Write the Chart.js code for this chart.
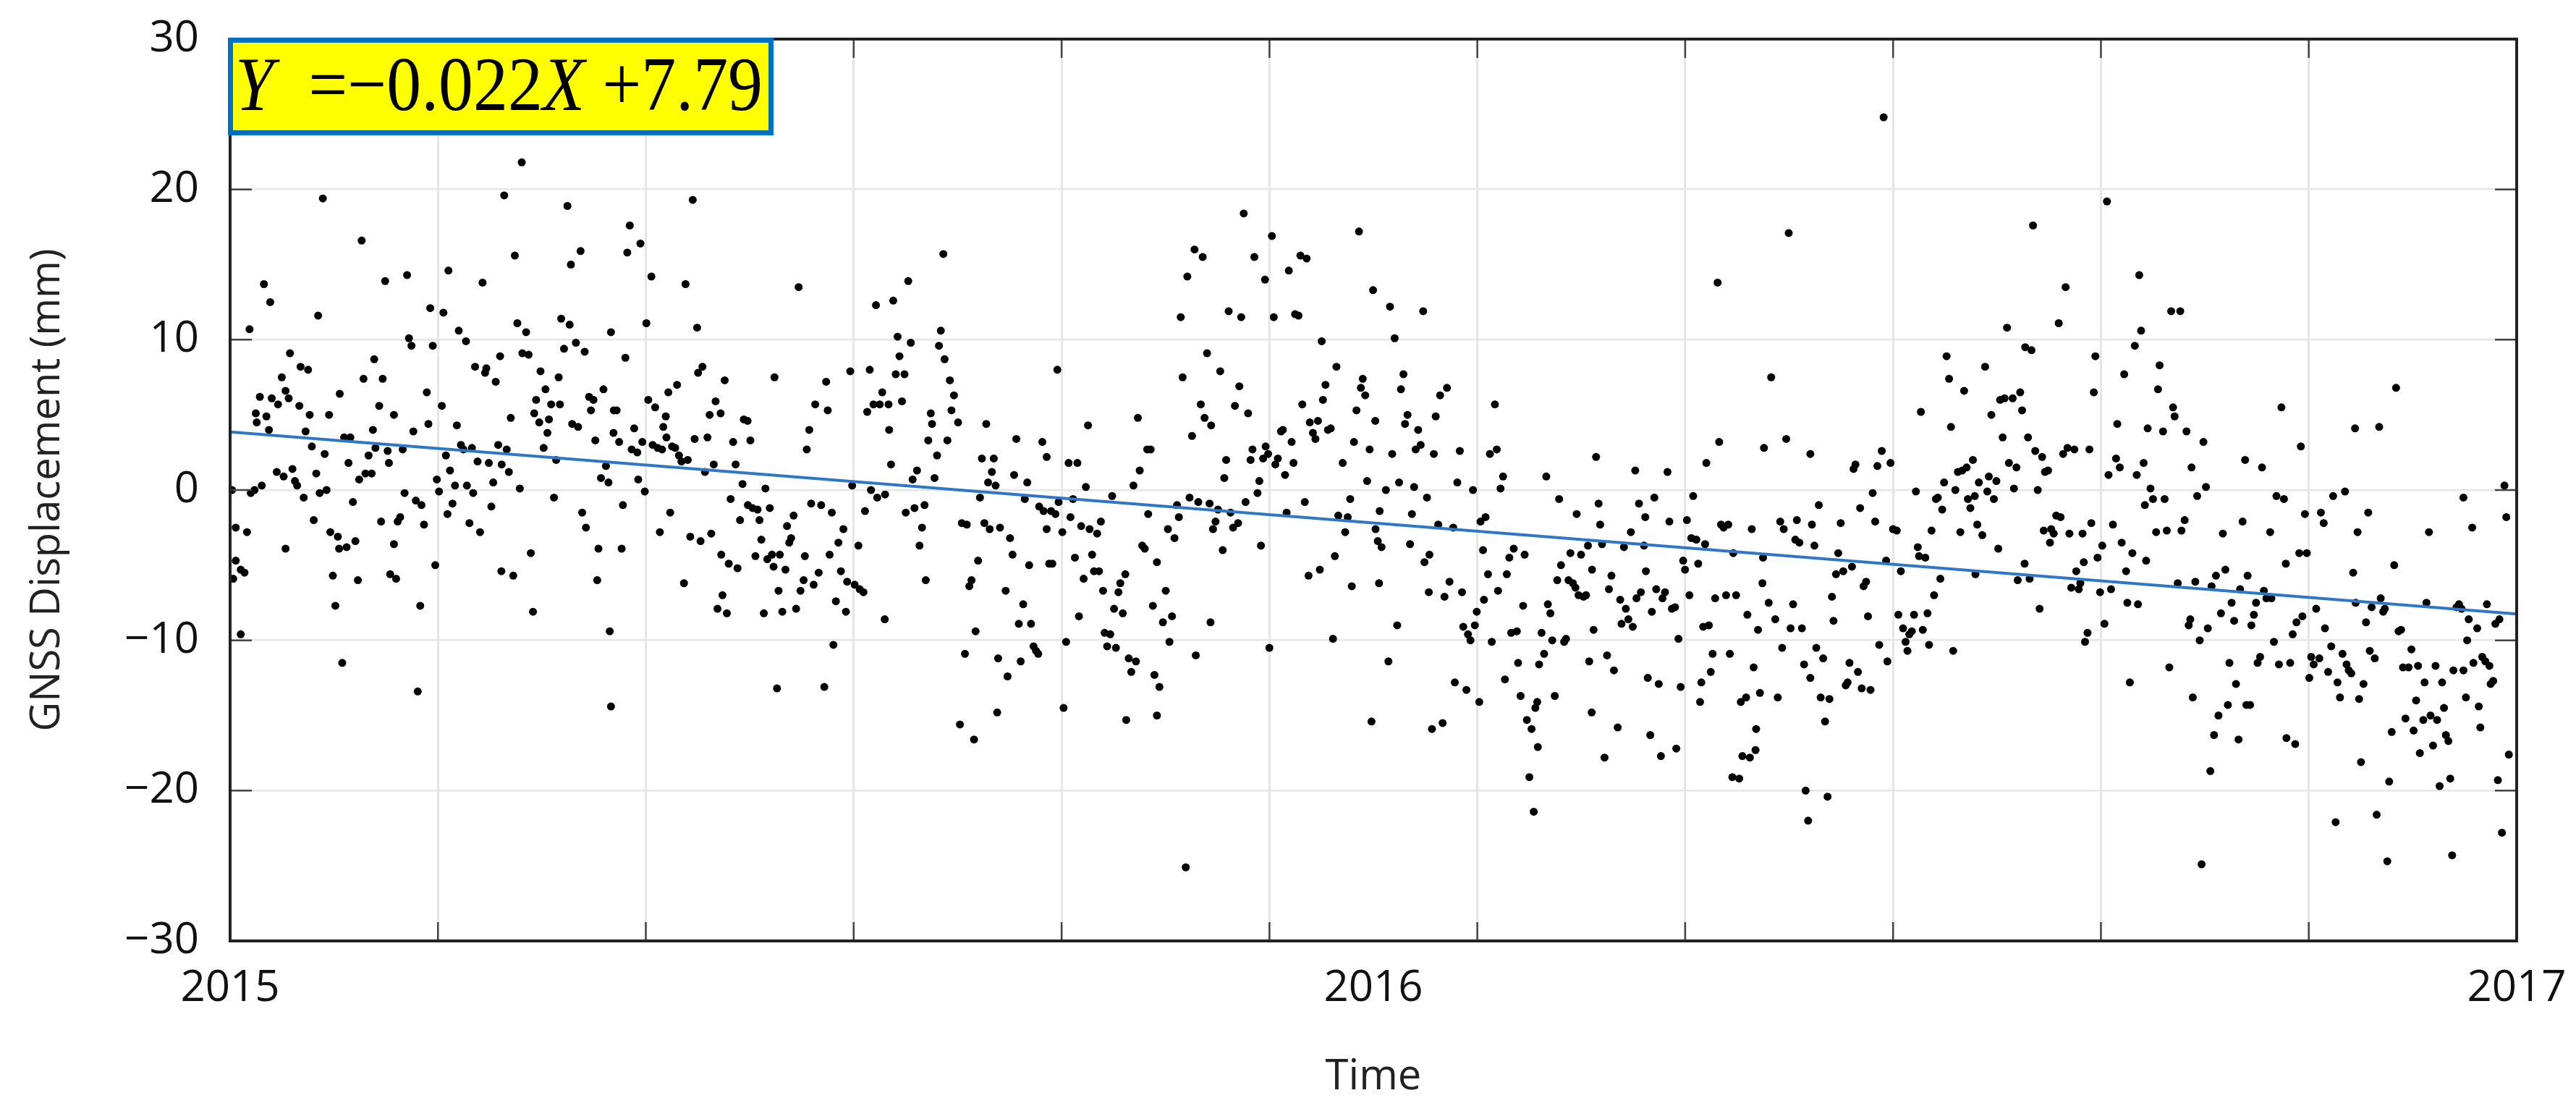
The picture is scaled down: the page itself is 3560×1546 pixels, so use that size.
<!DOCTYPE html>
<html lang="en">
<head>
<meta charset="UTF-8">
<title>GNSS Displacement</title>
<script src="https://cdn.jsdelivr.net/npm/chart.js"></script>
<style>
  html, body { margin: 0; padding: 0; background: #fff; }
  #wrap { width: 3560px; height: 1546px; position: relative; }
</style>
</head>
<body>
<div id="wrap"><canvas id="grafico"></canvas></div>
<script>
// dias desde 1 jan 2015 e deslocamento em mm
const days2015 = [
  0.6, 1.8, 1.8, 1.0, 3.4, 3.4, 4.6, 5.4, 6.2, 6.6,
  7.8, 8.2, 8.5, 9.5, 10.1, 10.8, 11.6, 12.4, 12.8, 13.3,
  14.9, 15.3, 16.5, 17.1, 17.7, 17.7, 18.7, 19.1, 19.9, 20.7,
  21.4, 22.1, 22.5, 23.5, 24.1, 24.9, 25.4, 26.1, 26.7, 27.5,
  28.1, 28.6, 29.6, 30.2, 30.8, 31.6, 32.0, 32.8, 33.6, 34.4,
  34.8, 35.0, 35.8, 36.4, 37.2, 37.8, 38.4, 39.2, 40.0, 40.8,
  41.2, 42.0, 42.6, 43.2, 44.2, 45.2, 45.6, 46.0, 46.4, 47.6,
  48.2, 48.7, 49.5, 50.3, 50.7, 51.1, 52.3, 52.3, 53.0, 53.5,
  54.3, 55.1, 55.7, 56.5, 57.1, 57.9, 58.5, 59.3, 59.9, 60.7,
  61.1, 61.9, 62.8, 63.3, 63.9, 64.7, 65.5, 66.0, 66.7, 67.6,
  68.1, 68.9, 69.4, 69.7, 70.2, 71.0, 71.8, 72.4, 73.0, 73.7,
  74.5, 75.3, 75.6, 76.4, 77.2, 77.6, 78.2, 79.0, 79.8, 80.6,
  81.4, 81.8, 82.6, 83.4, 84.0, 84.8, 85.6, 86.2, 86.6, 86.7,
  87.5, 88.3, 89.0, 89.6, 90.4, 90.9, 91.7, 92.5, 93.1, 93.3,
  94.5, 95.3, 96.0, 96.7, 97.1, 97.7, 98.7, 99.1, 100.1, 100.7,
  101.3, 101.8, 102.5, 103.4, 104.1, 104.9, 105.3, 105.7, 106.6, 107.7,
  108.4, 108.8, 109.2, 110.4, 111.1, 111.9, 112.4, 113.2, 113.6, 114.6,
  115.2, 116.0, 116.6, 117.2, 117.6, 118.4, 119.2, 120.0, 120.8, 121.2,
  121.6, 121.6, 122.4, 122.5,
  123.4, 124.2, 125.0, 125.4, 126.2, 126.8, 127.6, 128.2, 129.0, 130.0,
  130.3, 131.0, 131.6, 132.4, 132.9, 133.5, 134.5, 134.9, 135.7, 136.5,
  137.2, 137.9, 138.3, 139.1, 139.3, 139.9, 140.5, 141.1, 142.1, 142.7,
  143.3, 144.1, 144.9, 145.4, 146.1, 146.9, 147.7, 148.3, 149.1, 149.4,
  150.2, 150.8, 151.6, 152.4, 153.1, 153.6, 154.4, 155.0, 155.6, 156.6,
  156.8, 157.2, 157.9, 158.6, 159.2, 159.8, 160.6, 161.4, 162.0, 162.8,
  163.6, 164.0, 165.2, 165.3, 166.1, 166.8, 167.7, 168.4, 169.0, 169.6,
  170.4, 170.9, 171.5, 172.3, 173.0, 173.5, 173.8, 174.6, 175.1, 175.5,
  176.3, 177.3, 177.8, 178.5, 179.1, 179.9, 180.7, 181.5, 182.1, 183.1,
  183.5, 184.1, 184.9, 185.5, 186.3, 186.8, 187.9, 188.7, 189.7, 190.3,
  190.8, 191.4, 192.1, 192.6, 193.4, 194.2, 195.0, 195.8, 196.6, 197.0,
  198.0, 198.6, 199.4, 200.6, 201.0, 202.2, 202.7, 203.4, 204.2, 204.6,
  205.4, 206.2, 206.6, 207.4, 208.2, 209.0, 209.1, 210.2, 210.4, 211.0,
  211.7, 212.5, 213.1, 213.7, 214.5, 215.3, 215.7, 216.5, 217.3, 217.9,
  218.5, 219.3, 220.1, 220.9, 221.7, 222.1, 222.9, 223.7, 224.1, 224.9,
  225.7, 226.3, 226.9, 227.7, 228.1, 229.0, 229.8, 230.3, 231.1, 232.4,
  233.0, 233.6, 234.6, 235.2, 236.0, 236.7, 237.5, 238.0, 238.8, 239.4,
  240.0, 240.8, 241.4, 242.0, 242.5, 243.2, 243.8, 244.4, 244.9, 245.2,
  245.8, 247.6, 248.2, 249.0, 249.8, 250.3, 251.0, 251.8, 252.4, 253.2,
  253.7, 254.5, 255.1, 255.7, 256.5, 257.3, 258.0, 258.3, 259.3, 259.7,
  260.7, 260.7, 261.5, 262.1, 262.5, 263.5, 264.1, 264.5, 265.7, 266.1,
  266.9, 267.7, 268.3, 269.1, 269.7, 270.5, 271.0, 271.7, 272.5, 273.2,
  273.9, 274.4, 275.2, 275.8, 276.8, 277.4, 278.0, 278.7, 279.2, 280.0,
  281.0, 281.6, 282.2, 282.8, 283.6, 284.2, 285.0, 285.8, 286.1, 286.9,
  287.7, 288.4, 289.2, 289.8, 290.4, 291.2, 292.0, 292.8, 293.1, 293.9,
  294.6, 295.1, 295.9, 295.9, 296.7, 297.8, 298.7, 299.4, 299.9, 300.7,
  301.5, 302.3, 302.9, 303.5, 304.1, 305.1, 305.6, 306.3, 307.1, 307.9,
  308.3, 309.1, 309.9, 310.5, 311.1, 311.9, 312.7, 313.0, 313.2, 313.8,
  314.6, 315.4, 316.1, 316.9, 317.4, 318.0, 318.8, 319.4, 320.2, 320.8,
  321.8, 322.2, 322.8, 323.6, 324.2, 325.0, 325.8, 326.4, 327.0, 328.0,
  328.6, 329.1, 329.8, 330.4, 330.6, 331.4, 331.8, 332.6, 333.2, 333.7,
  334.5, 335.5, 336.1, 336.8, 337.3, 338.0, 338.9, 339.5, 340.0, 341.1,
  341.7, 342.3, 343.1, 343.7, 344.3, 344.7, 345.7, 346.5, 347.3, 347.9,
  348.5, 348.9, 349.7, 350.5, 351.4, 352.1, 352.7, 353.2, 353.8, 355.2,
  356.0, 356.8, 357.6, 358.1, 358.8, 359.6, 360.4, 361.0, 361.6, 362.4,
  363.0, 363.8, 364.4, 364.9
];
const mm2015 = [
  0, -2.5, -4.7, -5.9, -9.6, -5.3, -5.5, -2.8, 10.7, -0.2,
  0, 5.1, 4.5, 6.2, 0.3, 13.7, 4.9, 4.0, 12.5, 6.1,
  1.2, 5.7, 7.5, 0.9, 6.6, -3.9, 6.1, 9.1, 1.4, 0.6,
  0.3, 5.6, 8.2, -0.5, 3.9, 8.0, 5.0, 2.9, -2.0, 1.1,
  11.6, -0.2, 19.4, 2.4, 0, 5.0, -2.8, -5.7, -7.7, -3.1,
  -3.9, 6.4, -11.5, 3.5, -3.8, 1.8, 3.5, -0.8, -3.4, -6.0,
  0.7, 16.6, 7.4, 1.1, 2.3, 1.1, 4.0, 8.7, 2.8, 5.6,
  -2.1, 7.4, 13.9, 2.6, 1.8, -5.6, 5.0, -3.6, -5.9, -2.1,
  -1.8, 2.7, -0.2, 14.3, 10.1, 9.6, 3.9, -0.7, -13.4, -7.7,
  -1.0, -2.3, 6.5, 4.4, 12.1, 9.6, -5.0, 0.7, -0.1, 5.6,
  11.8, 2.3, -1.6, 14.6, 1.3, -0.9, 0.3, 4.3, 10.6, 3.0,
  2.7, 9.9, 0.3, -2.2, 2.8, -0.2, 8.2, 1.9, -2.8, 13.8,
  7.8, 8.1, 1.8, -1.1, 0.5, 7.2, 3.0, 8.9, -5.4, 1.7,
  19.6, 2.7, 1.2, 4.8, -5.7, 15.6, 11.1, 0.1, 21.8, 9.1,
  10.5, 9.0, -4.2, -8.1, 5.1, 6.0, 4.5, 7.9, 2.8, 6.7,
  3.8, 4.7, 5.7, -0.5, 2.0, 7.5, 5.7, 11.4, 9.4, 18.9,
  11.0, 15.0, 4.4, 9.8, 4.2, 15.9, -1.5, 9.2, -2.5, 6.2,
  5.3, 6.0, 3.3, -6.0, -3.9, 0.8, 6.7, 1.6, 0.5, -9.4,
  -14.4, 10.5, 3.8, 5.3,
  5.3, 3.2, -3.9, -1.0, 8.8, 15.8, 17.6, 2.7, 4.1, 2.5,
  0.7, 16.4, 3.2, -0.1, 11.1, 6.0, 14.2, 3.0, 5.5, 2.8,
  -2.8, 2.7, 4.2, 4.9, 3.5, 6.5, -1.5, 2.9, 2.8, 7.0,
  2.3, 1.9, -6.2, 13.7, 2.0, -3.1, 19.3, 3.4, 10.8, 7.8,
  -3.4, 8.2, 1.2, 3.5, 5.0, -2.9, 1.7, 5.9, -7.9, 5.1,
  -4.3, -7.0, 7.3, -8.2, -4.9, -0.6, 3.2, 1.7, -5.2, -2.0,
  0.4, 4.7, 4.6, -1.0, 3.3, -1.2, -4.4, -1.3, -2.0, -3.3,
  -8.2, 0.1, -4.6, -1.2, -4.3, -5.1, 7.5, -13.2, -6.7, -4.3,
  -8.1, -5.3, -2.4, -3.5, -3.2, -1.7, -7.9, 13.5, -6.7, -6.0,
  -4.4, 2.7, 4.0, -0.9, -6.3, 5.7, -5.5, -1.0, -13.1, 7.2,
  5.3, -4.3, -1.5, -10.3, -7.4, -3.5, -5.4, -2.6, -8.1, -6.1,
  7.9, 0.3, -6.3, -3.7, -6.6, -6.8, -1.4, 5.2, 8.0, 0.0,
  5.7, 12.3, -0.5, 5.7, 6.5, -8.6, -0.3, 5.7, 4.0, 1.7,
  12.6, 7.7, 10.2, 8.9, 5.9, 7.7, -1.5, 13.9, 9.8, 0.7,
  -1.2, 1.3, -3.7, -2.5, -1.0, -6.0, 3.3, 5.1, 4.4, 0.8,
  2.3, 9.6, 10.6, 15.7, 8.7, 3.3, 7.3, 5.3, 6.3, 4.5,
  -15.6, -2.2, -10.9, -2.3, -6.4, -6.0, -16.6, -9.4, -4.7, -0.5,
  2.1, -2.2, 4.4, 0.5, -2.6, 1.2, 2.1, 0.3, -14.8, -11.2,
  -2.5, -6.7, -12.4, -3.2, -4.3, 1.0, 3.4, -8.9, -11.4, -7.6,
  -0.6, 0.5, -5.0, -8.9, -10.4, -10.7, -10.9, -1.1, 3.2, -1.4,
  2.2, -2.6, -4.9, -1.4, -4.9, -1.6, 8.0, -0.8, -2.8, -14.5,
  -10.1, 1.8, -1.8, -0.6, -4.5, 1.8, -8.4, -2.4, -5.9, 0.2,
  4.3, -2.6, -4.3, -5.4, -2.9, -5.4, -2.1, -6.7, -9.5, -10.4,
  -9.6, -0.4, -7.9, -10.5, -6.8, -6.2, -8.2, -5.6, -15.3, -11.2,
  -12.1, 0.3, -11.4, 4.8, 1.3, -3.7, -3.9, 2.7, -1.6, 2.7,
  -7.7, -12.3, -15.0, -4.8, -13.1, -8.8, -6.7, -2.6, -10.1, -8.4,
  -3.2, -1.0, -1.8, 11.5, 7.5, -25.1, 14.2, -0.5, 3.6, 16.0,
  -11.0, -0.8, 5.7, 15.5, 4.8, 9.1, -0.9, -8.8, 4.3, -2.6,
  -2.1, -1.3, 7.9, -4.0, 0.8, 2.0, 11.9, -1.5, -2.5, 5.6,
  -2.2, 6.9, 11.5, 18.4, -0.8, 5.1, 2.0, 2.7, 15.5, -0.2,
  0.6, -3.7, 2.1, 14.0, 2.9, 2.4, -10.5, 16.9, 11.5, 1.7,
  2.1, 3.9, 4.0, 1.0, -1.5, 14.6, 3.2, 1.8, 11.7, 11.6,
  15.6, 5.7, -0.8, 15.4, -5.7, 4.5, 3.8, 3.4, 4.6, -5.3,
  9.9, 6.0, 7.0, 4.0, 4.1, -9.9, -4.4, 8.2, -1.7, 1.8,
  -2.8, -1.8, -0.6, -6.4, 3.2, 5.3, 17.2, 6.8, 7.4, 6.3,
  0.6, 2.7, -15.4, 13.3
];
const days2016 = [
  365.6, 365.7, 366.4, 366.8, 367.0, 367.6,
  369.0, 369.8, 370.3, 371.0, 371.8, 372.6, 373.2, 373.8, 374.6, 375.1,
  375.9, 376.7, 377.3, 378.0, 378.5, 379.3, 380.1, 380.9, 381.3, 382.1,
  382.7, 382.9, 383.7, 384.3, 384.9, 385.7, 386.3, 387.1, 387.7, 388.5,
  389.3, 390.5, 391.0, 391.8, 392.6, 393.3, 393.7, 394.7, 395.2, 396.0,
  396.8, 397.4, 398.0, 398.8, 399.2, 400.0, 400.3, 400.8, 401.6, 402.2,
  402.8, 403.8, 404.4, 404.8, 405.6, 406.4, 407.0, 407.6, 408.4, 409.0,
  409.8, 410.8, 411.2, 412.0, 412.8, 413.3, 414.0, 414.8, 415.5, 416.2,
  416.7, 417.3, 417.5, 417.9, 418.7, 419.5, 420.2, 420.7, 421.5, 422.1,
  422.9, 423.7, 424.3, 424.9, 425.9, 426.5, 427.3, 427.9, 428.7, 429.5,
  429.9, 430.5, 431.3, 432.1, 432.9, 433.5, 433.9, 434.7, 434.8, 435.3,
  436.1, 436.9, 437.4, 438.0, 438.8, 439.6, 440.2, 441.0, 441.8, 443.0,
  443.8, 444.2, 445.0, 445.6, 446.4, 447.2, 447.8, 448.6, 449.0, 449.8,
  450.4, 451.4, 451.8, 452.0, 452.6, 453.4, 453.9, 454.7, 455.3, 456.1,
  456.8, 457.3, 458.1, 458.9, 459.5, 460.3, 461.3, 461.7, 462.4, 463.1,
  463.9, 464.5, 465.1, 465.9, 466.5, 467.1, 468.1, 468.7, 469.3, 469.7,
  470.3, 470.9, 471.3, 472.1, 472.7, 473.3, 474.1, 474.9, 475.4, 476.0,
  476.8, 477.6, 478.3, 478.8, 479.6, 479.9, 480.8, 481.8, 482.3, 482.8,
  484.0, 484.4, 485.2, 485.8, 486.4, 487.0, 487.2, 487.8, 488.4, 489.2,
  489.4, 489.7,
  491.2, 492.0, 493.3, 494.1, 494.9, 495.5, 496.0, 496.8, 497.6, 498.2,
  499.0, 499.7, 500.2, 501.0, 501.8, 502.5, 503.0, 503.8, 504.5, 504.5,
  505.0, 505.8, 506.4, 507.2, 507.8, 508.6, 509.2, 510.0, 510.6, 511.4,
  511.9, 512.7, 513.4, 514.2, 515.0, 515.8, 516.4, 517.0, 517.8, 518.3,
  518.9, 519.7, 520.4, 520.9, 521.5, 522.3, 522.9, 523.7, 524.4, 525.2,
  525.9, 526.5, 527.3, 527.9, 528.7, 529.1, 530.1, 530.9, 532.1, 532.6,
  533.4, 534.1, 534.9, 535.5, 536.1, 536.9, 537.6, 538.2, 538.8, 539.2,
  539.8, 540.4, 541.2, 541.9, 542.4, 543.2, 544.0, 544.6, 545.2, 546.0,
  546.6, 547.2, 548.0, 548.8, 549.4, 550.1, 550.8, 551.6, 552.4, 553.0,
  553.6, 554.4, 554.8, 555.6, 556.4, 557.0, 557.2, 557.8, 558.3, 559.4,
  560.3, 561.0, 561.5, 562.3, 563.1, 563.9, 564.5, 565.1, 565.9, 566.5,
  567.3, 567.9, 569.1, 569.5, 570.3, 570.7, 571.5, 572.1, 572.9, 573.1,
  574.0, 574.5, 575.1, 575.6, 576.3, 577.1, 577.7, 578.5, 579.0, 579.4,
  580.4, 581.0, 581.4, 582.2, 583.0, 583.8, 584.4, 585.2, 586.0, 586.6,
  587.2, 587.8, 588.8, 589.4, 590.2, 590.7, 591.4, 591.8, 592.2, 593.0,
  593.6, 594.2, 595.0, 595.5, 596.2, 597.0, 597.7, 598.4, 599.2, 599.7,
  600.5, 601.1, 602.1, 602.5, 603.3, 603.9, 604.7, 605.3, 605.7, 606.5,
  607.3, 608.1, 608.7, 609.1, 609.5, 610.1, 610.9, 611.3, 611.7, 612.2,
  613.1, 613.9, 614.9, 615.5, 616.0, 617.1, 617.6, 618.3, 619.1, 619.7,
  620.3, 620.8, 621.8, 622.6, 623.0, 624.0, 624.6, 625.3, 625.8, 626.2,
  626.6, 627.4, 628.0, 628.8, 629.4, 630.0, 630.8, 631.4, 632.2, 632.6,
  633.4, 634.0, 634.8, 635.6, 636.2, 637.0, 637.8, 638.3, 639.0, 639.8,
  640.4, 641.2, 641.7, 642.5, 643.3, 643.7, 644.1, 644.9, 645.3, 646.1,
  646.8, 647.3, 648.1, 648.7, 649.3, 650.1, 651.3, 651.7, 652.5, 653.3,
  654.1, 654.9, 655.7, 656.3, 656.5, 657.7, 658.5, 659.3, 659.7, 660.6,
  661.1, 661.6, 662.4, 663.0, 663.8, 664.4, 665.2, 666.0, 667.0, 667.5,
  668.4, 668.8, 669.8, 670.8, 671.4, 672.2, 672.8, 673.6, 674.4, 675.2,
  675.7, 676.4, 677.2, 677.8, 678.4, 678.6, 679.2, 679.7, 680.3, 681.1,
  681.9, 682.6, 683.1, 683.7, 684.7, 685.3, 686.1, 686.6, 687.4, 687.9,
  688.7, 689.3, 690.1, 690.9, 691.5, 692.3, 693.1, 693.7, 694.5, 695.5,
  696.4, 697.1, 697.9, 698.5, 699.1, 700.2, 700.6, 701.2, 702.0, 702.5,
  703.3, 704.1, 704.6, 705.4, 706.2, 706.8, 707.4, 708.2, 708.8, 709.4,
  709.8, 710.8, 711.6, 712.4, 713.0, 713.0, 713.8, 714.2, 714.7, 715.8,
  716.2, 717.4, 717.9, 718.4, 719.0, 720.0, 720.5, 721.3, 721.7, 722.5,
  723.2, 724.0, 724.5, 725.3, 726.1, 726.7, 727.5
];
const mm2016 = [
  4.6, -2.6, -3.4, -6.2, -1.4, -3.8,
  0.0, -11.4, 12.2, 2.4, 10.1, -9.0, 0.5, 6.7, 7.7, 4.4,
  5.0, -3.6, -1.6, 0.2, 2.7, 4.0, 3.0, 11.9, -4.8, -0.5,
  -6.8, -4.3, -15.9, 2.4, 4.9, -2.3, 6.3, -15.5, -7.1, 6.8,
  -6.1, -2.5, -12.8, 0.5, 2.6, -6.8, -9.1, -13.3, -9.6, -10.0,
  0.0, -9.0, -8.1, -14.1, -2.1, -4.0, -7.3, -1.8, -5.6, 2.4,
  -10.1, 5.7, 2.7, -6.7, 0.1, 0.9, -12.6, -5.6, -4.5, -9.5,
  -3.9, -9.4, -11.5, -13.7, -7.7, -4.3, -15.3, -19.1, -15.9, -21.4,
  -14.5, -14.1, -17.1, -11.6, -9.5, -10.9, 0.9, -7.6, -8.2, -10.0,
  -13.7, -6.0, -0.6, -5.0, -10.1, -9.9, -6.0, -4.2, -6.2, -6.5,
  -1.6, -7.0, -4.3, -7.1, -7.0, -3.7, -11.4, -14.8, -5.3, -9.3,
  2.2, -0.9, -2.3, -3.6, -17.8, -11.0, -6.6, -5.7, -12.0, -15.8,
  -7.3, -8.9, -3.8, -7.9, -8.6, -2.8, -9.1, 1.3, -7.2, -0.9,
  -6.8, -3.7, -1.8, -5.4, -12.5, -16.3, -8.1, -0.5, -6.6, -12.9,
  -17.7, -7.2, -6.8, 1.2, -2.1, -7.9, -7.8, -17.2, -9.9, -13.1,
  -4.7, -5.3, -2.0, -7.0, -3.2, -0.4, -3.3, -4.9, -14.1, -12.8,
  -9.1, -3.6, 1.8, -9.0, -12.1, -10.9, -7.2, 13.8, 3.2, -2.3,
  -2.5, -7.0, -2.3, -10.9, -19.1, -4.2, -7.0, -19.2, -14.1, -17.7,
  -13.8, -8.3, -17.8, -2.6, -11.8, -17.3, -15.9, -9.3, -13.5, -6.2,
  -4.5, 2.8,
  -7.5, 7.5, -8.6, -13.8, -2.1, -10.5, -2.6, 3.4, 17.1, -9.2,
  -7.6, -3.3, -2.0, -3.5, -9.2, -11.6, -20.0, -22.0, -12.5, 2.4,
  -2.3, -3.7, -10.5, -1.0, -13.8, -11.2, -15.4, -20.4, -13.9, -7.1,
  -8.7, -5.6, -4.2, -2.2, -5.4, -13.0, -12.8, -11.5, -5.1, 1.4,
  1.7, -12.1, -1.2, -13.2, -6.4, -6.1, -8.4, -13.3, -0.2, -2.1,
  1.6, -10.3, 2.6, 24.8, -4.7, -11.4, 1.8, -2.6, -2.7, -8.3,
  -5.4, -9.2, -10.1, -10.7, -9.6, -9.4, -8.3, -0.1, -3.8, -4.4,
  5.2, -9.3, -4.5, -8.2, -10.3, -2.7, -7.0, -0.6, -0.5, -5.9,
  -1.3, 0.5, 8.9, 7.4, 4.2, -10.7, 0.0, 1.2, -2.8, 1.3,
  6.6, 1.5, -0.6, -1.2, 2.0, -0.4, -5.6, -2.3, 0.5, -3.0,
  8.2, -0.1, 0.9, 5.0, -0.6, 0.6, -3.9, 6.0, 3.5, 6.1,
  10.8, 1.8, 6.1, 0.1, 1.5, -6.0, 6.5, 5.3, -4.9, 9.5,
  3.5, -5.9, 9.3, 17.6, 2.6, 0.0, -7.9, 2.2, -2.7, 1.2,
  1.3, -3.5, -2.6, -2.9, -1.7, 11.1, -1.8, 2.4, 13.5, 2.8,
  -2.9, -6.5, 2.7, -5.4, -6.6, -6.2, -2.9, -4.8, -10.1, -9.5,
  2.7, -2.2, 6.5, 8.9, -4.5, -6.8, -3.7, -8.9, 19.2, 1.0,
  -6.6, -2.3, 2.1, 4.4, 1.5, -3.5, 7.7, -5.4, -7.5, -12.8,
  -4.2, 9.6, 1.0, -7.6, 14.3, 10.6, 1.8, -1.0, -4.7, 4.1,
  0.1, -0.6, -2.8, 6.7, 8.3, 3.9, -0.6, -2.7, -11.8, 11.9,
  5.5, 4.9, -6.2, 11.9, -2.7, -2.0, 3.9, -9.0, -8.6, 1.5,
  -13.8, -6.1, -0.4, -10.0, -24.9, 3.2, 0.2, -9.2, -18.7, -6.4,
  -16.3, -5.7, -15.0, -8.2, -2.9, -5.3, -14.3, -11.5, -7.5, -8.7,
  -12.9, -16.6, -6.6, -2.1, 2.0, -14.3, -5.7, -14.3, -9.0, -8.3,
  -7.5, -11.5, -11.1, 1.5, -6.7, -7.2, -2.8, -7.2, -10.1, -0.4,
  -11.6, 5.5, -0.6, -4.9, -16.5, -11.5, -9.6, -16.9, -8.8, -4.2,
  2.9, -8.4, -1.6, -4.2, -12.5, -11.1, -11.6, -7.9, -11.2, -1.5,
  -2.2, -9.2, -12.1, -10.4, -0.4, -22.1, -12.8, -13.8, -10.9, -0.1,
  -11.6, -12.0, -12.2, -5.5, 4.1, -7.5, -2.8, -13.9, -18.1, -12.9,
  -8.8, -1.5, -10.7, -7.8, -11.2, -21.6, 4.2, -7.2, -8.1, -7.9,
  -24.7, -19.4, -16.1, -5.0, 6.8, -9.4, -9.3, -11.8, -15.2, -11.8,
  -10.6, -16.0, -14.0, -11.7, -17.5, -15.3, -12.8, -7.5, -2.8, -15.0,
  -17.0, -11.7, -15.3, -19.7, -12.8, -14.5, -16.3, -16.7, -19.2, -24.3,
  -12.0, -7.8, -7.6, -7.9, -0.5, -12.0, -13.8, -10.0, -8.6, -2.5,
  -11.5, -9.2, -14.4, -15.8, -11.1, -11.4, -7.6, -11.7, -12.9, -12.7,
  -8.9, -19.3, -8.6, -22.8, 0.3, -1.8, -17.6
];

// reta de tendencia (extremos)
const trendDays = [0, 730];
const trendMm = [3.87, -8.25];

// texto da equacao: [trecho, italico]
const equationParts = [['Y', true], ['  =', false], ['\u22120.022', false], ['X', true], [' +', false], ['7.79', false]];

const totalDays = 730;
const xGridCount = 11;
const xLabelDays = [0, 365, 730];
const xLabels = ['2015', '2016', '2017'];
const yMin = -30;
const yMax = 30;
const yStep = 10;

const fonteEixo = '"Open Sans", "Noto Sans", sans-serif';

function gridDays() {
  const out = [];
  for (let i = 0; i <= xGridCount; i++) out.push(i * totalDays / xGridCount);
  return out;
}

function toPoints(ds, vs) {
  return ds.map((d, i) => ({ x: d, y: vs[i] }));
}

const pontos = toPoints(days2015, mm2015).concat(toPoints(days2016, mm2016));
const reta = toPoints(trendDays, trendMm);

// moldura, marcas internas e caixa da equacao
const moldura = {
  id: 'moldura',
  afterDatasetsDraw(chart) {
    const { ctx, chartArea: a, scales } = chart;
    ctx.save();
    ctx.strokeStyle = '#444';
    ctx.lineWidth = 2.5;
    ctx.beginPath();
    gridDays().forEach(d => {
      const x = scales.x.getPixelForValue(d);
      ctx.moveTo(x, a.bottom); ctx.lineTo(x, a.bottom - 26);
      ctx.moveTo(x, a.top); ctx.lineTo(x, a.top + 26);
    });
    for (let v = yMin; v <= yMax; v += yStep) {
      const y = scales.y.getPixelForValue(v);
      ctx.moveTo(a.left, y); ctx.lineTo(a.left + 30, y);
      ctx.moveTo(a.right, y); ctx.lineTo(a.right - 30, y);
    }
    ctx.stroke();
    ctx.strokeStyle = '#222';
    ctx.lineWidth = 4;
    ctx.strokeRect(a.left, a.top, a.right - a.left, a.bottom - a.top);
    ctx.restore();
  },
  afterDraw(chart) {
    const { ctx, chartArea: a } = chart;
    const bx = a.left - 3, by = a.top - 2, bw = 754, bh = 135;
    ctx.save();
    ctx.fillStyle = '#ffff00';
    ctx.fillRect(bx, by, bw, bh);
    ctx.strokeStyle = '#0070c0';
    ctx.lineWidth = 7;
    ctx.strokeRect(bx + 3.5, by + 3.5, bw - 7, bh - 7);

    const size = 106;
    const fontOf = it => (it ? 'italic ' : '') + size + 'px "Liberation Serif", "Times New Roman", serif';
    let total = 0;
    equationParts.forEach(p => { ctx.font = fontOf(p[1]); total += ctx.measureText(p[0]).width; });
    const sx = 729 / total;
    ctx.translate(a.left + 7, a.top + 98);
    ctx.scale(sx, 1);
    ctx.fillStyle = '#000';
    ctx.textBaseline = 'alphabetic';
    let x = 0;
    equationParts.forEach(p => {
      ctx.font = fontOf(p[1]);
      ctx.fillText(p[0], x, 0);
      x += ctx.measureText(p[0]).width;
    });
    ctx.restore();
  }
};

const canvas = document.getElementById('grafico');
const ctx = canvas.getContext('2d');

new Chart(ctx, {
  data: {
    datasets: [
      {
        type: 'line',
        label: 'Tendência',
        data: reta,
        borderColor: '#2e77c6',
        borderWidth: 4,
        pointRadius: 0,
        fill: false
      },
      {
        type: 'scatter',
        label: 'GNSS',
        data: pontos,
        pointRadius: 5.5,
        pointBackgroundColor: '#000',
        pointBorderWidth: 0,
        showLine: false
      }
    ]
  },
  plugins: [moldura],
  options: {
    responsive: true,
    maintainAspectRatio: false,
    devicePixelRatio: 1,
    animation: false,
    layout: { padding: { left: 32, right: 82, top: 54, bottom: 23 } },
    plugins: {
      legend: { display: false },
      tooltip: { enabled: false }
    },
    scales: {
      x: {
        type: 'linear',
        position: 'bottom',
        min: 0,
        max: totalDays,
        afterBuildTicks: s => {
          s.ticks = gridDays().concat([365]).sort((p, q) => p - q).map(v => ({ value: v }));
        },
        afterFit: s => {
          s.height = 223;
          s.paddingLeft = 0;
          s.paddingRight = 0;
        },
        border: { display: false },
        grid: {
          drawTicks: false,
          lineWidth: 3,
          color: c => (c.tick && Math.abs(c.tick.value - 365) < 0.01 ? 'rgba(0,0,0,0)' : '#e6e6e6')
        },
        ticks: {
          autoSkip: false,
          maxRotation: 0,
          minRotation: 0,
          padding: 30,
          color: '#111',
          font: { family: fonteEixo, size: 60 },
          callback: v => {
            const i = xLabelDays.indexOf(v);
            return i >= 0 ? xLabels[i] : '';
          }
        },
        title: {
          display: true,
          text: 'Time',
          color: '#222',
          padding: 0,
          font: { family: fonteEixo, size: 58 }
        }
      },
      y: {
        min: yMin,
        max: yMax,
        afterFit: s => {
          s.width = 286;
          s.paddingTop = 0;
          s.paddingBottom = 0;
        },
        border: { display: false },
        grid: { drawTicks: false, lineWidth: 2.5, color: '#e6e6e6' },
        ticks: {
          stepSize: yStep,
          padding: 43,
          color: '#111',
          font: { family: fonteEixo, size: 60 },
          callback: v => (v < 0 ? '\u2212' + Math.abs(v) : String(v))
        },
        title: {
          display: true,
          text: 'GNSS Displacement (mm)',
          color: '#222',
          padding: 0,
          font: { family: fonteEixo, size: 56 }
        }
      }
    }
  }
});
</script>
</body>
</html>
